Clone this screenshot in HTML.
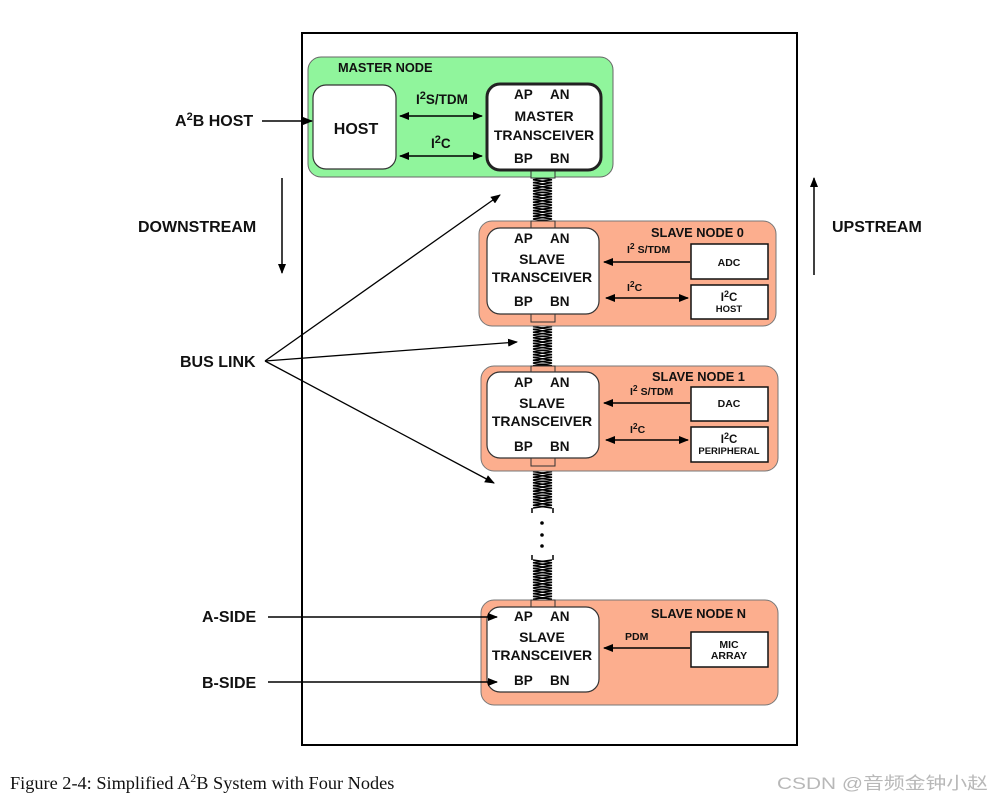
<!DOCTYPE html>
<html><head><meta charset="utf-8"><style>
body{margin:0;background:#fff;width:992px;height:801px;overflow:hidden}
svg{display:block}
text{font-family:"Liberation Sans",Arial,sans-serif;font-weight:bold;fill:#111}
</style></head><body>
<svg id="s" width="992" height="801" viewBox="0 0 992 801">
<defs>
<marker id="ah" markerWidth="10" markerHeight="8" refX="9" refY="4" orient="auto" markerUnits="userSpaceOnUse"><path d="M0,0 L10,4 L0,8 Z" fill="#000"/></marker>
<marker id="as" markerWidth="10" markerHeight="8" refX="1" refY="4" orient="auto" markerUnits="userSpaceOnUse"><path d="M10,0 L0,4 L10,8 Z" fill="#000"/></marker>
</defs>
<rect x="302" y="33" width="495" height="712" fill="none" stroke="#000" stroke-width="2"/>

<g id="tw" stroke="#000" stroke-width="1.5" fill="none"></g>
<path d="M532,508 v5 M553,508 v5 M532,560 v-5 M553,560 v-5" stroke="#000" stroke-width="1.5"/>
<circle cx="542" cy="523" r="1.8"/><circle cx="542" cy="535" r="1.8"/><circle cx="542" cy="546" r="1.8"/>

<!-- master node -->
<rect x="308" y="57" width="305" height="120" rx="13" fill="#90f59c" stroke="#666" stroke-width="1"/>
<rect x="531" y="170" width="24" height="8" fill="#90f59c" stroke="#333" stroke-width="1"/>
<text x="338" y="72" font-size="12.8">MASTER NODE</text>
<rect x="313" y="85" width="83" height="84" rx="13" fill="#fff" stroke="#333" stroke-width="1.2"/>
<text x="356" y="134" font-size="16" text-anchor="middle">HOST</text>
<rect x="487" y="84" width="114" height="86" rx="13" fill="#fff" stroke="#222" stroke-width="3"/>
<text x="514" y="99" font-size="13.5">AP</text><text x="550" y="99" font-size="13.5">AN</text>
<text x="544" y="121" font-size="14" text-anchor="middle">MASTER</text>
<text x="544" y="140" font-size="14" text-anchor="middle">TRANSCEIVER</text>
<text x="514" y="163" font-size="13.5">BP</text><text x="550" y="163" font-size="13.5">BN</text>
<line x1="400" y1="116" x2="482" y2="116" stroke="#000" stroke-width="1.6" marker-start="url(#as)" marker-end="url(#ah)"/>
<line x1="400" y1="156" x2="482" y2="156" stroke="#000" stroke-width="1.6" marker-start="url(#as)" marker-end="url(#ah)"/>
<text x="416" y="104" font-size="13.5">I<tspan dy="-5" font-size="11">2</tspan><tspan dy="5">S/TDM</tspan></text>
<text x="431" y="148" font-size="13.5">I<tspan dy="-5" font-size="11">2</tspan><tspan dy="5">C</tspan></text>

<!-- slave node 0 -->
<rect x="479" y="221" width="297" height="105" rx="13" fill="#fcae8e" stroke="#777" stroke-width="1"/>
<rect x="531" y="314" width="24" height="8" fill="#fcae8e" stroke="#333"/>
<rect x="531" y="221" width="24" height="8" fill="#fcae8e" stroke="#333"/>
<text x="651" y="237" font-size="12.8">SLAVE NODE 0</text>
<rect x="487" y="228" width="112" height="86" rx="13" fill="#fff" stroke="#333" stroke-width="1.2"/>
<text x="514" y="243" font-size="13.5">AP</text><text x="550" y="243" font-size="13.5">AN</text>
<text x="542" y="264" font-size="14" text-anchor="middle">SLAVE</text>
<text x="542" y="282" font-size="14" text-anchor="middle">TRANSCEIVER</text>
<text x="514" y="306" font-size="13.5">BP</text><text x="550" y="306" font-size="13.5">BN</text>
<rect x="691" y="244" width="77" height="35" fill="#fff" stroke="#111" stroke-width="1.5"/>
<text x="729" y="266" font-size="10.5" text-anchor="middle">ADC</text>
<rect x="691" y="285" width="77" height="34" fill="#fff" stroke="#111" stroke-width="1.5"/>
<text x="729" y="301" font-size="11.5" text-anchor="middle">I<tspan dy="-4" font-size="9">2</tspan><tspan dy="4">C</tspan></text>
<text x="729" y="312" font-size="9.5" text-anchor="middle">HOST</text>
<line x1="690" y1="262" x2="604" y2="262" stroke="#000" stroke-width="1.6" marker-end="url(#ah)"/>
<line x1="606" y1="298" x2="688" y2="298" stroke="#000" stroke-width="1.6" marker-start="url(#as)" marker-end="url(#ah)"/>
<text x="627" y="253" font-size="10.5">I<tspan dy="-4" font-size="8.5">2</tspan><tspan dy="4"> S/TDM</tspan></text>
<text x="627" y="291" font-size="10.5">I<tspan dy="-4" font-size="8.5">2</tspan><tspan dy="4">C</tspan></text>

<!-- slave node 1 -->
<rect x="481" y="366" width="297" height="105" rx="13" fill="#fcae8e" stroke="#777" stroke-width="1"/>
<rect x="531" y="458" width="24" height="8" fill="#fcae8e" stroke="#333"/>
<rect x="531" y="366" width="24" height="7" fill="#fcae8e" stroke="#333"/>
<text x="652" y="381" font-size="12.8">SLAVE NODE 1</text>
<rect x="487" y="372" width="112" height="86" rx="13" fill="#fff" stroke="#333" stroke-width="1.2"/>
<text x="514" y="387" font-size="13.5">AP</text><text x="550" y="387" font-size="13.5">AN</text>
<text x="542" y="408" font-size="14" text-anchor="middle">SLAVE</text>
<text x="542" y="426" font-size="14" text-anchor="middle">TRANSCEIVER</text>
<text x="514" y="451" font-size="13.5">BP</text><text x="550" y="451" font-size="13.5">BN</text>
<rect x="691" y="387" width="77" height="34" fill="#fff" stroke="#111" stroke-width="1.5"/>
<text x="729" y="407" font-size="10.5" text-anchor="middle">DAC</text>
<rect x="691" y="427" width="77" height="35" fill="#fff" stroke="#111" stroke-width="1.5"/>
<text x="729" y="443" font-size="11.5" text-anchor="middle">I<tspan dy="-4" font-size="9">2</tspan><tspan dy="4">C</tspan></text>
<text x="729" y="454" font-size="9.5" text-anchor="middle">PERIPHERAL</text>
<line x1="690" y1="403" x2="604" y2="403" stroke="#000" stroke-width="1.6" marker-end="url(#ah)"/>
<line x1="606" y1="440" x2="688" y2="440" stroke="#000" stroke-width="1.6" marker-start="url(#as)" marker-end="url(#ah)"/>
<text x="630" y="395" font-size="10.5">I<tspan dy="-4" font-size="8.5">2</tspan><tspan dy="4"> S/TDM</tspan></text>
<text x="630" y="433" font-size="10.5">I<tspan dy="-4" font-size="8.5">2</tspan><tspan dy="4">C</tspan></text>

<!-- slave node N -->
<rect x="481" y="600" width="297" height="105" rx="13" fill="#fcae8e" stroke="#777" stroke-width="1"/>
<rect x="531" y="600" width="24" height="7" fill="#fcae8e" stroke="#333"/>
<text x="651" y="618" font-size="12.8">SLAVE NODE N</text>
<rect x="487" y="607" width="112" height="85" rx="13" fill="#fff" stroke="#333" stroke-width="1.2"/>
<text x="514" y="621" font-size="13.5">AP</text><text x="550" y="621" font-size="13.5">AN</text>
<text x="542" y="642" font-size="14" text-anchor="middle">SLAVE</text>
<text x="542" y="660" font-size="14" text-anchor="middle">TRANSCEIVER</text>
<text x="514" y="685" font-size="13.5">BP</text><text x="550" y="685" font-size="13.5">BN</text>
<rect x="691" y="632" width="77" height="35" fill="#fff" stroke="#111" stroke-width="1.5"/>
<text x="729" y="648" font-size="10.5" text-anchor="middle">MIC</text>
<text x="729" y="659" font-size="10.5" text-anchor="middle">ARRAY</text>
<line x1="690" y1="648" x2="604" y2="648" stroke="#000" stroke-width="1.6" marker-end="url(#ah)"/>
<text x="625" y="640" font-size="10.5">PDM</text>

<!-- left labels -->
<text x="175" y="126" font-size="16">A<tspan dy="-6" font-size="11">2</tspan><tspan dy="6">B HOST</tspan></text>
<line x1="262" y1="121" x2="312" y2="121" stroke="#000" stroke-width="1.5" marker-end="url(#ah)"/>
<text x="138" y="232" font-size="16">DOWNSTREAM</text>
<line x1="282" y1="178" x2="282" y2="273" stroke="#000" stroke-width="1.5" marker-end="url(#ah)"/>
<text x="832" y="232" font-size="16">UPSTREAM</text>
<line x1="814" y1="275" x2="814" y2="178" stroke="#000" stroke-width="1.5" marker-end="url(#ah)"/>
<text x="180" y="367" font-size="16">BUS LINK</text>
<line x1="265" y1="361" x2="500" y2="195" stroke="#000" stroke-width="1.3" marker-end="url(#ah)"/>
<line x1="265" y1="361" x2="517" y2="342" stroke="#000" stroke-width="1.3" marker-end="url(#ah)"/>
<line x1="265" y1="361" x2="494" y2="483" stroke="#000" stroke-width="1.3" marker-end="url(#ah)"/>
<text x="202" y="622" font-size="16">A-SIDE</text>
<line x1="268" y1="617" x2="497" y2="617" stroke="#000" stroke-width="1.5" marker-end="url(#ah)"/>
<text x="202" y="688" font-size="16">B-SIDE</text>
<line x1="268" y1="682" x2="497" y2="682" stroke="#000" stroke-width="1.5" marker-end="url(#ah)"/>

<text x="10" y="789" font-size="18.3" style="font-family:'Liberation Serif',serif;font-weight:normal">Figure 2-4: Simplified A<tspan dy="-7" font-size="12">2</tspan><tspan dy="7">B System with Four Nodes</tspan></text>
<text x="777" y="789" font-size="17" textLength="211" lengthAdjust="spacingAndGlyphs" style="font-family:'Liberation Sans','Noto Sans CJK SC',sans-serif;font-weight:normal;fill:#b8b8b8">CSDN @音频金钟小赵</text>
</svg>
<script>
(function(){
var g=document.getElementById('tw');var segs=[[177,222],[321,367],[466,508],[560,600]];
var d='';
segs.forEach(function(s){
 var y0=s[0],y1=s[1],p=5.6,a='',b='',i=0;
 for(var y=y0;y<=y1+0.01;y+=p/2){var l=(i%2==0);a+=(i?'L':'M')+(l?533:552)+','+y.toFixed(1);b+=(i?'L':'M')+(l?552:533)+','+y.toFixed(1);i++;}
 d+=a+b;
});
var p=document.createElementNS('http://www.w3.org/2000/svg','path');p.setAttribute('d',d);g.appendChild(p);
})();
</script>
</body></html>
